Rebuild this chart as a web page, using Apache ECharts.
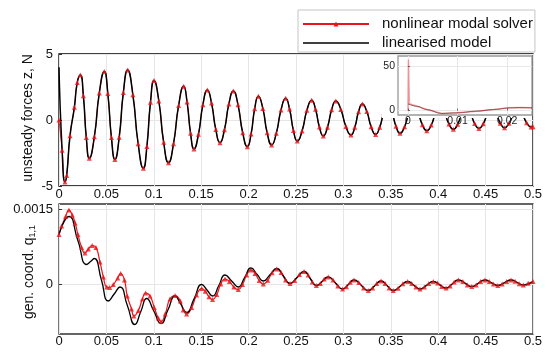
<!DOCTYPE html>
<html><head><meta charset="utf-8">
<script src="https://cdn.jsdelivr.net/npm/echarts@6/dist/echarts.min.js"></script>
<style>html,body{margin:0;padding:0;background:#fff}#c{width:550px;height:355px}</style>
</head><body><div id="c"></div>
<script>
// ---------- data ----------
const xTicks = [0, 0.05, 0.1, 0.15, 0.2, 0.25, 0.3, 0.35, 0.4, 0.45, 0.5];
const forceTicks = [-5, 0, 5];
const coordTicks = [0, 0.0015];
const insetXTicks = [0, 0.01, 0.02];
const insetYTicks = [0, 50];

// unsteady force z, N (top panel)
const forceTime = [0, 0.0033, 0.0063, 0.0081, 0.0116, 0.0162, 0.0193, 0.0225,
  0.0257, 0.0288, 0.032, 0.0373, 0.0425, 0.0478, 0.0515, 0.0553, 0.059,
  0.0635, 0.0679, 0.0724, 0.0779, 0.0835, 0.089, 0.0927, 0.0965, 0.1002,
  0.1053, 0.1104, 0.1155, 0.1208, 0.1262, 0.1315, 0.1351, 0.1388, 0.1424,
  0.1471, 0.1518, 0.1565, 0.1609, 0.1654, 0.1698, 0.1745, 0.1792, 0.1839,
  0.1888, 0.1938, 0.1987, 0.2026, 0.2064, 0.2103, 0.215, 0.2196, 0.2243,
  0.2292, 0.2342, 0.2391, 0.2432, 0.2473, 0.2514, 0.2564, 0.2615, 0.2665,
  0.2706, 0.2747, 0.2788, 0.2832, 0.2876, 0.292, 0.2973, 0.3027, 0.308,
  0.312, 0.316, 0.32, 0.3247, 0.3293, 0.334, 0.3383, 0.3427, 0.347,
  0.3512, 0.3555, 0.3597, 0.3645, 0.3692, 0.374, 0.3787, 0.3833, 0.388,
  0.3927, 0.3973, 0.402, 0.4067, 0.4113, 0.416, 0.4205, 0.425, 0.4295,
  0.434, 0.4385, 0.443, 0.4475, 0.452, 0.4565, 0.461, 0.4655, 0.47,
  0.4747, 0.4793, 0.484, 0.4887, 0.4933, 0.498, 0.5];
const forceLinear = [4.0, -2.3, -4.7, -4.2, -1.2, 0.96, 2.85, 3.4,
  1.83, -1.33, -2.9, -1.26, 2.04, 3.68, 2.01, -1.33, -3.0,
  -1.31, 2.09, 3.78, 1.92, -1.8, -3.66, -2.0, 1.34, 3.0,
  1.44, -1.68, -3.24, -1.79, 1.1, 2.55, 1.36, -1.01, -2.2,
  -1.08, 1.16, 2.28, 1.28, -0.72, -1.72, -0.74, 1.22, 2.2,
  1.15, -0.97, -2.02, -1.07, 0.85, 1.8, 0.88, -0.97, -1.89,
  -1.01, 0.76, 1.64, 0.83, -0.79, -1.6, -0.83, 0.73, 1.5,
  0.82, -0.53, -1.21, -0.55, 0.78, 1.44, 0.8, -0.5, -1.14,
  -0.55, 0.62, 1.21, 0.64, -0.52, -1.09, -0.54, 0.55, 1.1,
  0.57, -0.48, -1.01, -0.51, 0.5, 1.0, 0.55, -0.36, -0.81,
  -0.38, 0.49, 0.92, 0.51, -0.3, -0.71, -0.32, 0.46, 0.85,
  0.48, -0.27, -0.64, -0.28, 0.44, 0.8, 0.46, -0.24, -0.58,
  -0.25, 0.41, 0.74, 0.42, -0.21, -0.53, -0.52];
const forceSolver = [0.0, -2.3, -4.7, -4.2, -1.2, 0.96, 2.85, 3.4,
  1.83, -1.33, -2.9, -1.26, 2.04, 3.68, 2.01, -1.33, -3.0,
  -1.31, 2.09, 3.78, 1.92, -1.8, -3.66, -2.0, 1.34, 3.0,
  1.44, -1.68, -3.24, -1.79, 1.1, 2.55, 1.36, -1.01, -2.2,
  -1.08, 1.16, 2.28, 1.28, -0.72, -1.72, -0.74, 1.22, 2.2,
  1.15, -0.97, -2.02, -1.07, 0.85, 1.8, 0.88, -0.97, -1.89,
  -1.01, 0.76, 1.64, 0.83, -0.79, -1.6, -0.83, 0.73, 1.5,
  0.82, -0.53, -1.21, -0.55, 0.78, 1.44, 0.8, -0.5, -1.14,
  -0.55, 0.62, 1.21, 0.64, -0.52, -1.09, -0.54, 0.55, 1.1,
  0.57, -0.48, -1.01, -0.51, 0.5, 1.0, 0.55, -0.36, -0.81,
  -0.38, 0.49, 0.92, 0.51, -0.3, -0.71, -0.32, 0.46, 0.85,
  0.48, -0.27, -0.64, -0.28, 0.44, 0.8, 0.46, -0.24, -0.58,
  -0.25, 0.41, 0.74, 0.42, -0.21, -0.53, -0.52];

// inset: start of the force signal
const insetLinearTime = [0, 0.0018, 0.0038, 0.0068, 0.0099, 0.0139, 0.0172, 0.0206, 0.0225, 0.025];
const insetLinear = [7.5, 4.8, 1.1, -3.3, -2.6, -0.7, 1.1, 3.0, 3.3, 3.0];
const insetSolverTime = [0, 0.0001, 0.0003, 0.0018, 0.0038, 0.0068, 0.0099, 0.0139, 0.0172, 0.0206, 0.0225, 0.025];
const insetSolver = [0, 57, 7.5, 4.8, 1.1, -3.3, -2.6, -0.7, 1.1, 3.0, 3.3, 3.0];

// generalised coordinate q_{1,1} (bottom panel)
const coordLinearTime = [0, 0.0105, 0.0199, 0.0292, 0.0333, 0.0373, 0.0447, 0.052,
  0.0582, 0.0643, 0.0722, 0.08, 0.0863, 0.0925, 0.1, 0.1076, 0.115, 0.1224,
  0.1285, 0.1346, 0.1426, 0.1505, 0.1563, 0.162, 0.1686, 0.1751, 0.1821,
  0.1891, 0.1958, 0.2025, 0.209, 0.2155, 0.2226, 0.2296, 0.2367, 0.2437,
  0.2511, 0.2585, 0.265, 0.2715, 0.2778, 0.284, 0.2916, 0.2992, 0.3052,
  0.3112, 0.3188, 0.3263, 0.333, 0.3397, 0.3462, 0.3526, 0.3602, 0.3678,
  0.3743, 0.3808, 0.3878, 0.3948, 0.4015, 0.4082, 0.4148, 0.4213, 0.4284,
  0.4354, 0.4424, 0.4494, 0.4561, 0.4628, 0.4698, 0.4768, 0.4833, 0.4898, 0.5];
const coordLinear = [0.99e-3, 1.35e-3, 0.87e-3, 0.39e-3, 0.45e-3, 0.51e-3, 0.085e-3, -0.34e-3,
  -0.2e-3, -0.06e-3, -0.435e-3, -0.81e-3, -0.55e-3, -0.29e-3, -0.54e-3, -0.79e-3, -0.515e-3, -0.24e-3,
  -0.405e-3, -0.57e-3, -0.29e-3, -0.01e-3, -0.125e-3, -0.24e-3, -0.03e-3, 0.18e-3, 0.06e-3,
  -0.06e-3, 0.13e-3, 0.32e-3, 0.19e-3, 0.06e-3, 0.185e-3, 0.31e-3, 0.16e-3, 0.01e-3,
  0.13e-3, 0.25e-3, 0.11e-3, -0.03e-3, 0.055e-3, 0.14e-3, 0.02e-3, -0.10e-3, -0.01e-3,
  0.08e-3, -0.025e-3, -0.13e-3, -0.035e-3, 0.06e-3, -0.035e-3, -0.13e-3, -0.04e-3, 0.05e-3,
  -0.025e-3, -0.10e-3, -0.025e-3, 0.05e-3, -0.015e-3, -0.08e-3, 0.0, 0.08e-3, 0.015e-3,
  -0.05e-3, 0.015e-3, 0.08e-3, 0.025e-3, -0.03e-3, 0.025e-3, 0.08e-3, 0.03e-3, -0.02e-3, 0.05e-3];
const coordSolverTime = [0, 0.0028, 0.007, 0.0105, 0.014, 0.017, 0.02, 0.0239, 0.0274, 0.031,
  0.035, 0.039, 0.0432, 0.0468, 0.0503, 0.0535, 0.0573, 0.062, 0.065, 0.069, 0.072,
  0.0765, 0.079, 0.0837, 0.088, 0.0914, 0.096, 0.1005, 0.1047, 0.1076, 0.112, 0.117,
  0.1224, 0.128, 0.131, 0.1346, 0.1399, 0.1452, 0.1505, 0.1543, 0.1582, 0.162, 0.1664,
  0.1707, 0.1751, 0.1798, 0.1844, 0.1891, 0.1936, 0.198, 0.2025, 0.2068, 0.2112, 0.2155,
  0.2202, 0.2249, 0.2296, 0.2343, 0.239, 0.2437, 0.2486, 0.2536, 0.2585, 0.2628, 0.2672,
  0.2715, 0.2757, 0.2798, 0.284, 0.2891, 0.2941, 0.2992, 0.3032, 0.3072, 0.3112, 0.3162,
  0.3213, 0.3263, 0.3308, 0.3352, 0.3397, 0.344, 0.3483, 0.3526, 0.3577, 0.3627, 0.3678,
  0.3721, 0.3765, 0.3808, 0.3855, 0.3901, 0.3948, 0.3993, 0.4037, 0.4082, 0.4126, 0.4169,
  0.4213, 0.426, 0.4307, 0.4354, 0.4401, 0.4447, 0.4494, 0.4539, 0.4583, 0.4628, 0.4675,
  0.4721, 0.4768, 0.4811, 0.4855, 0.4898, 0.4949, 0.5];
const coordSolver = [0.99e-3, 1.16e-3, 1.35e-3, 1.48e-3, 1.38e-3, 1.22e-3, 0.99e-3, 0.73e-3, 0.62e-3, 0.70e-3,
  0.77e-3, 0.73e-3, 0.44e-3, 0.14e-3, -0.06e-3, -0.07e-3, -0.01e-3, 0.12e-3, 0.21e-3, 0.08e-3, -0.24e-3,
  -0.50e-3, -0.64e-3, -0.53e-3, -0.30e-3, -0.18e-3, -0.24e-3, -0.47e-3, -0.68e-3, -0.75e-3, -0.60e-3, -0.30e-3,
  -0.23e-3, -0.34e-3, -0.52e-3, -0.60e-3, -0.47e-3, -0.22e-3, -0.09e-3, -0.145e-3, -0.255e-3, -0.31e-3, -0.21e-3,
  0.0, 0.10e-3, 0.05e-3, -0.06e-3, -0.11e-3, -0.01e-3, 0.18e-3, 0.28e-3, 0.21e-3, 0.07e-3, 0.0,
  0.075e-3, 0.225e-3, 0.30e-3, 0.23e-3, 0.08e-3, 0.01e-3, 0.07e-3, 0.19e-3, 0.25e-3, 0.18e-3, 0.04e-3,
  -0.03e-3, 0.01e-3, 0.10e-3, 0.14e-3, 0.08e-3, -0.04e-3, -0.10e-3, -0.055e-3, 0.035e-3, 0.08e-3, 0.03e-3,
  -0.08e-3, -0.13e-3, -0.08e-3, 0.01e-3, 0.06e-3, 0.01e-3, -0.08e-3, -0.13e-3, -0.085e-3, 0.005e-3, 0.05e-3,
  0.01e-3, -0.06e-3, -0.10e-3, -0.06e-3, 0.01e-3, 0.05e-3, 0.02e-3, -0.05e-3, -0.08e-3, -0.04e-3, 0.04e-3,
  0.08e-3, 0.05e-3, -0.02e-3, -0.05e-3, -0.02e-3, 0.05e-3, 0.08e-3, 0.05e-3, 0.0, -0.03e-3, 0.0,
  0.05e-3, 0.08e-3, 0.055e-3, 0.005e-3, -0.02e-3, 0.015e-3, 0.05e-3];

const seriesNames = ['nonlinear modal solver', 'linearised model'];

// ---------- chart ----------
const FONT = '"Liberation Sans", Arial, Helvetica, sans-serif';
const RED = '#e8161c';
const SMOOTH = 0.55;
const zip = (t, v) => t.map((x, i) => [x, v[i]]);

const chart = echarts.init(document.getElementById('c'), null, {renderer: 'canvas'});

function mainX(grid, margin) {
  return {
    type: 'value', gridIndex: grid, min: 0, max: 0.5, interval: 0.05,
    axisLine: {show: false},
    axisTick: {show: false},
    axisLabel: {fontSize: 13, color: '#111', margin: margin, fontFamily: FONT,
      customValues: xTicks},
    splitLine: {show: true, lineStyle: {color: '#e6e6e6', width: 1}}
  };
}

const option = {
  animation: false,
  backgroundColor: '#fff',
  textStyle: {fontFamily: FONT},
  grid: [
    {left: 59, top: 54, width: 474, height: 132, show: true, borderColor: '#000', borderWidth: 1.3, backgroundColor: 'transparent'},
    {left: 59, top: 204, width: 474, height: 130, show: true, borderColor: '#333', borderWidth: 1.3, backgroundColor: 'transparent'},
    {left: 398, top: 56, width: 134, height: 59, show: true, borderColor: '#999', borderWidth: 1.3, backgroundColor: '#fff', z: 12}
  ],
  xAxis: [
    mainX(0, 2),
    mainX(1, 1),
    {type: 'value', gridIndex: 2, min: -0.002, max: 0.025, z: 13,
      axisLine: {show: false},
      axisTick: {show: true, inside: true, length: 2, customValues: insetXTicks, lineStyle: {color: '#666'}},
      axisLabel: {fontSize: 10.5, color: '#222', margin: 1, customValues: insetXTicks},
      splitLine: {show: true, lineStyle: {color: '#e8e8e8'}}}
  ],
  yAxis: [
    {type: 'value', gridIndex: 0, min: -5, max: 5, interval: 5,
      axisLine: {show: false},
      axisTick: {show: true, inside: true, length: 3, customValues: forceTicks, lineStyle: {color: '#333'}},
      axisLabel: {fontSize: 13, color: '#111', margin: 6, customValues: forceTicks},
      splitLine: {show: true, lineStyle: {color: '#e6e6e6'}}},
    {type: 'value', gridIndex: 1, min: -0.001, max: 0.0016,
      axisLine: {show: false},
      axisTick: {show: true, inside: true, length: 3, customValues: coordTicks, lineStyle: {color: '#333'}},
      axisLabel: {fontSize: 13, color: '#111', margin: 6, customValues: coordTicks},
      splitLine: {show: true, lineStyle: {color: '#e6e6e6'}}},
    {type: 'value', gridIndex: 2, min: -5, max: 61, z: 13,
      axisLine: {show: false},
      axisTick: {show: true, inside: true, length: 2, customValues: insetYTicks, lineStyle: {color: '#666'}},
      axisLabel: {fontSize: 10.5, color: '#222', margin: 3, customValues: insetYTicks},
      splitLine: {show: true, lineStyle: {color: '#e8e8e8'}}}
  ],
  legend: {
    orient: 'vertical', left: 298, top: 10,
    data: [{name: seriesNames[0]}, {name: seriesNames[1], icon: 'path://M0,0h66v1.4h-66z'}],
    itemWidth: 66, itemHeight: 6, itemGap: 3,
    backgroundColor: '#fff', borderColor: '#c4c4c4', borderWidth: 1, borderRadius: 0,
    padding: [6, 2, 1, 4],
    textStyle: {fontSize: 15, color: '#111', lineHeight: 16, padding: [0, 0, 0, 8], fontFamily: FONT},
    selectedMode: false, z: 20
  },
  graphic: [
    {type: 'rect', shape: {x: 382, y: 55, width: 150, height: 63}, style: {fill: '#fff'}, z: 11, silent: true},
    {type: 'text', x: 28, y: 118, rotation: Math.PI / 2, z: 20,
      style: {text: 'unsteady forces z, N', fontSize: 14, fontFamily: FONT, fill: '#111', align: 'center', verticalAlign: 'middle'}},
    {type: 'text', x: 29, y: 272, rotation: Math.PI / 2, z: 20,
      style: {text: 'gen. coord. q{s|1,1}', fontSize: 14, fontFamily: FONT, fill: '#111', align: 'center', verticalAlign: 'middle',
        rich: {s: {fontSize: 9, fontFamily: FONT, fill: '#111', verticalAlign: 'bottom', padding: [7, 0, 0, 0]}}}}
  ],
  series: [
    // top panel
    {name: seriesNames[0], type: 'line', xAxisIndex: 0, yAxisIndex: 0, data: zip(forceTime, forceSolver),
      smooth: SMOOTH, symbol: 'triangle', symbolSize: 5, showSymbol: false,
      lineStyle: {color: RED, width: 1}, itemStyle: {color: RED}, z: 2},
    {name: seriesNames[1], type: 'line', xAxisIndex: 0, yAxisIndex: 0, data: zip(forceTime, forceLinear),
      smooth: SMOOTH, symbol: 'none', lineStyle: {color: '#000', width: 1.5}, itemStyle: {color: '#000'}, z: 3},
    {name: 'solver markers top', type: 'scatter', xAxisIndex: 0, yAxisIndex: 0, data: zip(forceTime, forceSolver),
      symbol: 'triangle', symbolSize: 5, itemStyle: {color: RED}, z: 4},
    // bottom panel
    {name: seriesNames[0], type: 'line', xAxisIndex: 1, yAxisIndex: 1, data: zip(coordSolverTime, coordSolver),
      smooth: SMOOTH, symbol: 'triangle', symbolSize: 5, showSymbol: false,
      lineStyle: {color: RED, width: 1.2}, itemStyle: {color: RED}, z: 2},
    {name: seriesNames[1], type: 'line', xAxisIndex: 1, yAxisIndex: 1, data: zip(coordLinearTime, coordLinear),
      smooth: SMOOTH, symbol: 'none', lineStyle: {color: '#000', width: 1.3}, itemStyle: {color: '#000'}, z: 3},
    {name: 'solver markers bottom', type: 'scatter', xAxisIndex: 1, yAxisIndex: 1, data: zip(coordSolverTime, coordSolver),
      symbol: 'triangle', symbolSize: 5, itemStyle: {color: RED}, z: 4},
    // inset
    {name: 'inset linear', type: 'line', xAxisIndex: 2, yAxisIndex: 2, data: zip(insetLinearTime, insetLinear),
      smooth: 0.4, smoothMonotone: 'x', symbol: 'none', lineStyle: {color: '#000', width: 1, opacity: 0.55}, z: 14},
    {name: 'inset solver', type: 'line', xAxisIndex: 2, yAxisIndex: 2, data: zip(insetSolverTime, insetSolver),
      smooth: false, symbol: 'none', lineStyle: {color: RED, width: 1.5, opacity: 0.4}, z: 15}
  ]
};
chart.setOption(option);
</script></body></html>
